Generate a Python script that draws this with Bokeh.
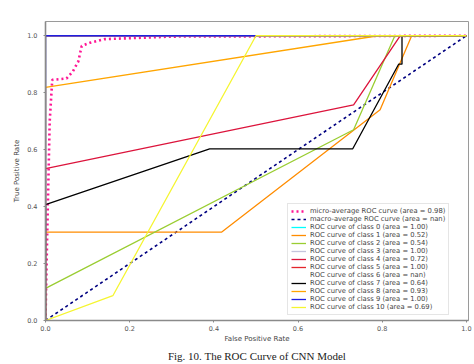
from bokeh.plotting import figure
from bokeh.models import FixedTicker, Legend, LegendItem, Title, Range1d, PrintfTickFormatter
from bokeh.embed import file_html
from bokeh.resources import INLINE

# ---- data ----
micro_fpr = [0.0, 0.004, 0.01, 0.016, 0.05, 0.065, 0.078, 0.086, 0.105, 0.14, 0.3, 1.0]
micro_tpr = [0.0, 0.3, 0.7, 0.845, 0.85, 0.875, 0.91, 0.964, 0.975, 0.988, 0.997, 1.0]
macro_fpr = [0.0, 1.0]
macro_tpr = [0.0, 1.0]

class_fpr = [
    [0.0, 0.0, 1.0],                                   # 0
    [0.0, 0.0, 0.418, 0.795, 0.87, 1.0],               # 1
    [0.0, 0.0, 0.732, 0.83, 1.0],                      # 2
    [0.0, 0.0, 1.0],                                   # 3
    [0.0, 0.0, 0.732, 0.843, 1.0],                     # 4
    [0.0, 0.0, 1.0],                                   # 5
    [],                                                # 6 (nan)
    [0.0, 0.0, 0.39, 0.73, 0.839, 0.847, 0.847, 1.0],  # 7
    [0.0, 0.0, 0.79, 1.0],                             # 8
    [0.0, 0.0, 1.0],                                   # 9
    [0.0, 0.16, 0.5, 1.0],                             # 10
]
class_tpr = [
    [0.0, 1.0, 1.0],
    [0.0, 0.31, 0.31, 0.74, 1.0, 1.0],
    [0.0, 0.113, 0.67, 1.0, 1.0],
    [0.0, 1.0, 1.0],
    [0.0, 0.533, 0.757, 1.0, 1.0],
    [0.0, 1.0, 1.0],
    [],
    [0.0, 0.407, 0.603, 0.603, 0.9, 0.9, 1.0, 1.0],
    [0.0, 0.819, 1.0, 1.0],
    [0.0, 1.0, 1.0],
    [0.0, 0.087, 1.0, 1.0],
]
class_area = ["1.00", "0.52", "0.54", "1.00", "0.72", "1.00", "nan", "0.64", "0.93", "1.00", "0.69"]
micro_area = "0.98"
macro_area = "nan"
ticks = [0.0, 0.2, 0.4, 0.6, 0.8, 1.0]
caption = "Fig. 10. The ROC Curve of CNN Model"

class_colors = ["#00ffff", "#ff8c00", "#9acd32", "#c4c4dc", "#dc143c", "#e3262c",
                "#3caa3c", "#000000", "#ffa500", "#1f1fe0", "#f5f530"]

p = figure(width=474, height=364, output_backend="svg", toolbar_location=None,
           x_range=Range1d(0.0, 1.005), y_range=Range1d(0.0, 1.05),
           min_border_left=45, min_border_right=6, min_border_top=21, min_border_bottom=43)
p.grid.visible = False
p.outline_line_color = "#9a9a9a"
p.outline_line_width = 1
p.background_fill_color = "white"

for ax in (p.xaxis[0], p.yaxis[0]):
    ax.ticker = FixedTicker(ticks=ticks)
    ax.formatter = PrintfTickFormatter(format="%.1f")
    ax.axis_line_color = "#8a8a8a"
    ax.axis_line_width = 1.6
    ax.major_tick_line_color = "#8a8a8a"
    ax.major_tick_out = 2
    ax.major_tick_in = 0
    ax.minor_tick_line_color = None
    ax.major_label_text_font = "DejaVu Sans"
    ax.major_label_text_font_size = "6.5px"
    ax.major_label_text_color = "#555555"
    ax.axis_label_text_font = "DejaVu Sans"
    ax.axis_label_text_font_size = "7px"
    ax.axis_label_text_font_style = "normal"
    ax.axis_label_text_color = "#444444"

p.xaxis.axis_label = "False Positive Rate"
p.yaxis.axis_label = "True Positive Rate"
p.xaxis.major_label_standoff = 3
p.xaxis.axis_label_standoff = 1
p.yaxis.major_label_standoff = 6
p.yaxis.axis_label_standoff = 3

items = []
r = p.line(micro_fpr, micro_tpr, line_color="#ff1493", line_width=2.6, line_dash="2 3")
items.append(LegendItem(label=f"micro-average ROC curve (area = {micro_area})", renderers=[r]))
r = p.line(macro_fpr, macro_tpr, line_color="#000080", line_width=1.6, line_dash="3 3")
items.append(LegendItem(label=f"macro-average ROC curve (area = {macro_area})", renderers=[r]))
for i in range(len(class_fpr)):
    r = p.line(class_fpr[i], class_tpr[i], line_color=class_colors[i], line_width=1.3)
    items.append(LegendItem(label=f"ROC curve of class {i} (area = {class_area[i]})", renderers=[r]))

legend = Legend(items=items, location=(242, 5))
legend.label_text_font = "DejaVu Sans"
legend.label_text_font_size = "6.8px"
legend.label_text_color = "#444444"
legend.label_height = 8
legend.glyph_height = 8
legend.glyph_width = 15
legend.label_standoff = 4
legend.spacing = 0
legend.padding = 3
legend.margin = 0
legend.border_line_color = "#cccccc"
legend.border_line_width = 1
legend.background_fill_alpha = 0.9
p.add_layout(legend, "center")

cap = Title(text=caption, align="center", text_font="Liberation Serif",
            text_font_size="11px", text_font_style="normal", text_color="#222222",
            standoff=5)
p.add_layout(cap, "below")

open("out.html", "w").write(file_html(p, INLINE))
